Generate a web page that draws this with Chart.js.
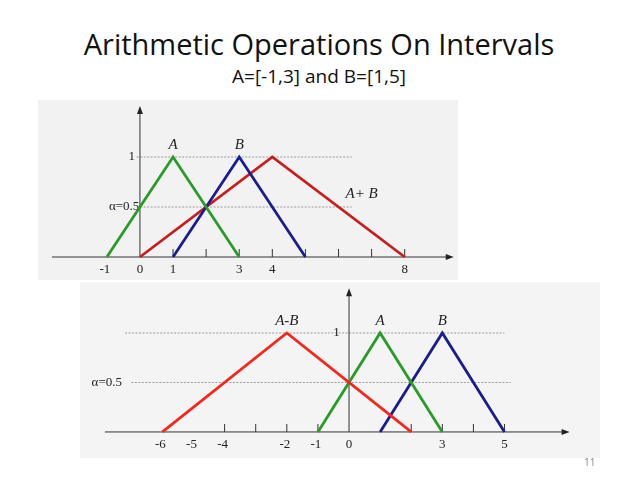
<!DOCTYPE html>
<html><head><meta charset="utf-8">
<script src="https://cdn.jsdelivr.net/npm/chart.js@4/dist/chart.umd.min.js"></script>
<style>
body{margin:0;width:638px;height:478px;background:#fff;position:relative;overflow:hidden;font-family:"Open Sans",Lato,sans-serif}
#t{position:absolute;top:24px;left:0;width:638px;text-align:center;font-size:29px;color:#111}
#s{position:absolute;top:63px;left:0;width:638px;text-align:center;font-size:19px;color:#111}
#n{position:absolute;left:584px;top:455px;font-size:10px;color:#888}
.b{position:absolute}
</style></head><body>
<div id="t">Arithmetic Operations On Intervals</div>
<div id="s">A=[-1,3] and B=[1,5]</div>
<div class="b" style="left:38px;top:100px;width:420px;height:180px;background:#f2f2f2"><canvas id="c1"></canvas></div>
<div class="b" style="left:80px;top:282px;width:520px;height:176px;background:#f4f4f4"><canvas id="c2"></canvas></div>
<div id="n">11</div>
<script>
// Top chart data
const topA = [[-1,0],[1,1],[3,0]];
const topB = [[1,0],[3,1],[5,0]];
const topSum = [[0,0],[4,1],[8,0]];
const topTickMarks = [1,2,3,4,5,6,7,8];
const topTickLabels = [-1,0,1,3,4,8];
// Bottom chart data
const botDiff = [[-6,0],[-2,1],[2,0]];
const botA = [[-1,0],[1,1],[3,0]];
const botB = [[1,0],[3,1],[5,0]];
const botTickMarks = [-4,-3,-2,-1,2,3,4,5];
const botTickLabels = [-6,-5,-4,-2,-1,0,3,5];
const alphaLevel = 0.5;

const GREEN='#2a9b2a', BLUE='#1c1c8e', RED1='#c41e1e', RED2='#f0281e';
const pts = a => a.map(p=>({x:p[0],y:p[1]}));
const ds = (d,c)=>({data:pts(d),borderColor:c,borderWidth:2.8,showLine:true,pointRadius:0,tension:0});

function deco(cfg){
  return {id:'deco',beforeDatasetsDraw(ch){
    const c=ch.ctx,x=ch.scales.x,y=ch.scales.y,X=v=>x.getPixelForValue(v),Y=v=>y.getPixelForValue(v);
    c.save();
    c.strokeStyle='#777';c.lineWidth=0.7;c.setLineDash([2,1.5]);
    cfg.dash.forEach(d=>{c.beginPath();c.moveTo(X(d[0]),Y(d[2]));c.lineTo(X(d[1]),Y(d[2]));c.stroke();});
    c.setLineDash([]);c.strokeStyle='#333';c.lineWidth=1;
    c.beginPath();c.moveTo(X(cfg.xr[0]),Y(0));c.lineTo(X(cfg.xr[1]),Y(0));
    c.moveTo(X(0),Y(0));c.lineTo(X(0),Y(cfg.ytop));c.stroke();
    c.fillStyle='#222';
    c.beginPath();const ax=X(cfg.xr[1]);c.moveTo(ax+6,Y(0));c.lineTo(ax-2,Y(0)-3);c.lineTo(ax-2,Y(0)+3);c.fill();
    c.beginPath();const ay=Y(cfg.ytop);c.moveTo(X(0),ay-6);c.lineTo(X(0)-3,ay+2);c.lineTo(X(0)+3,ay+2);c.fill();
    c.beginPath();cfg.marks.forEach(m=>{c.moveTo(X(m),Y(0));c.lineTo(X(m),Y(0)-8);});c.stroke();
    c.font='13px "Liberation Serif",serif';c.textAlign='center';c.textBaseline='top';
    cfg.labels.forEach(l=>c.fillText(String(l),X(l)+(l<0?-2:0),Y(0)+6));
    c.textBaseline='middle';c.textAlign='right';
    c.fillText('1',X(cfg.oneX),Y(1));
    c.fillText('\u03b1=0.5',X(cfg.alphaX),Y(alphaLevel));
    c.font='italic 15px "Liberation Serif",serif';c.textAlign='center';c.textBaseline='bottom';
    cfg.names.forEach(n=>c.fillText(n[0],X(n[1]),Y(n[2])));
    c.restore();
  }};
}
function make(id,datasets,xmin,xmax,ymin,ymax,cfg){
  new Chart(document.getElementById(id),{type:'scatter',data:{datasets},
    options:{responsive:true,maintainAspectRatio:false,animation:false,layout:{padding:0},
      plugins:{legend:{display:false},tooltip:{enabled:false}},
      scales:{x:{type:'linear',min:xmin,max:xmax,display:false},y:{type:'linear',min:ymin,max:ymax,display:false}}},
    plugins:[deco(cfg)]});
}
make('c1',[ds(topA,GREEN),ds(topB,BLUE),ds(topSum,RED1)],-3.08,9.61,-0.23,1.57,
  {dash:[[-0.1,6.4,1],[-0.1,6.4,alphaLevel]],xr:[-2.66,9.3],ytop:1.45,marks:topTickMarks,labels:topTickLabels,
   oneX:-0.15,alphaX:-0.02,names:[['A',1,1.04],['B',3,1.04],['A+ B',6.7,0.55]]});
make('c2',[ds(botDiff,RED2),ds(botA,GREEN),ds(botB,BLUE)],-8.65,8.07,-0.263,1.515,
  {dash:[[-7.2,5.0,1],[-7.0,5.2,alphaLevel]],xr:[-7.85,6.9],ytop:1.39,marks:botTickMarks,labels:botTickLabels,
   oneX:-0.3,alphaX:-7.3,names:[['A-B',-2,1.04],['A',1,1.04],['B',3,1.04]]});
</script></body></html>
